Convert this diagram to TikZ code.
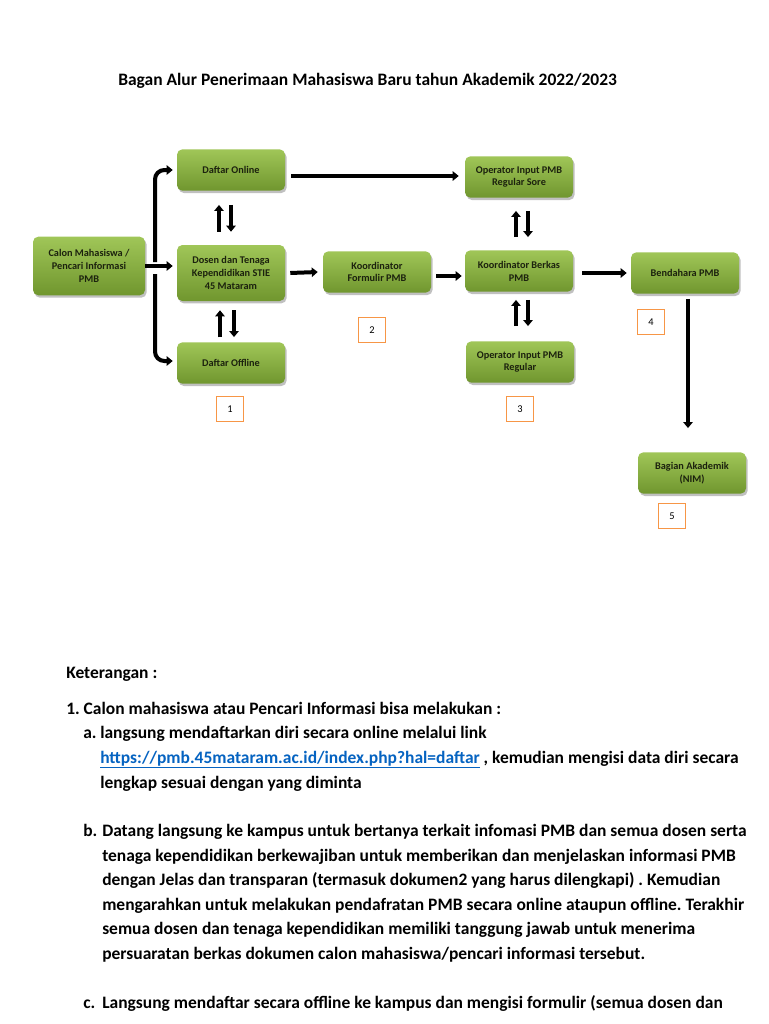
\documentclass[tikz,border=0pt]{standalone}
\usepackage{fontspec}
\setmainfont{Carlito}
\usetikzlibrary{arrows.meta,shadows,calc}
\definecolor{gtop}{RGB}{160,198,88}
\definecolor{gbot}{RGB}{112,150,46}
\definecolor{boxtext}{RGB}{28,34,14}
\definecolor{numorange}{RGB}{247,150,70}
\definecolor{linkblue}{RGB}{5,99,193}
\begin{document}
\frenchspacing
\begin{tikzpicture}[x=0.75pt,y=-0.75pt,
  box/.style={rectangle, rounded corners=4pt, top color=gtop, bottom color=gbot, draw=none,
    minimum width=81pt, minimum height=31pt, align=center, inner sep=2pt,
    font=\bfseries\fontsize{7.7}{9.6}\selectfont, text=boxtext,
    drop shadow={shadow xshift=1.2pt, shadow yshift=-1.8pt, opacity=0.35, fill=black!70}},
  num/.style={draw=numorange, line width=1.1pt, fill=white, minimum width=20pt, minimum height=18.5pt,
    inner sep=0pt, font=\fontsize{7.8}{9}\selectfont},
  arr/.style={line width=3pt, -{Triangle[length=4.5pt,width=7pt]}},
  bodyline/.style={anchor=base west, inner sep=0pt, font=\bfseries\fontsize{13.1}{15}\selectfont},
  titletext/.style={anchor=base west, inner sep=0pt, font=\bfseries\fontsize{13.1}{15}\selectfont}
]
\useasboundingbox (0,0) rectangle (768,1024);
\fill[white] (0,0) rectangle (768,1024);

\node[titletext] (title) at (118,85) {Bagan Alur Penerimaan Mahasiswa Baru tahun Akademik 2022/2023};

% boxes
\node[box, minimum width=84pt, minimum height=44pt] (calon) at (89,266) {Calon Mahasiswa /\\Pencari Informasi\\PMB};
\node[box] (online) at (231,170) {Daftar Online};
\node[box, minimum height=42pt] (dosen) at (231,273) {Dosen dan Tenaga\\Kependidikan STIE\\45 Mataram};
\node[box] (offline) at (231,363) {Daftar Offline};
\node[box] (formulir) at (377,272) {Koordinator\\Formulir PMB};
\node[box] (berkas) at (519,271) {Koordinator Berkas\\PMB};
\node[box] (opsore) at (519,177) {Operator Input PMB\\Regular Sore};
\node[box] (opreg) at (520,362) {Operator Input PMB\\Regular};
\node[box] (bendahara) at (685,273) {Bendahara PMB};
\node[box] (akademik) at (692,473) {Bagian Akademik\\(NIM)};

% number boxes
\node[num] (n1) at (230,409) {1};
\node[num] (n2) at (372,330) {2};
\node[num] (n3) at (520,409) {3};
\node[num] (n4) at (651,322) {4};
\node[num] (n5) at (672,516) {5};

% connectors
\coordinate (split) at (155,266);
\draw[arr, rounded corners=7pt, shorten >=3pt] ($(split)+(0,-4)$) |- (online.west);
\draw[arr, rounded corners=7pt, shorten >=3pt] ($(split)+(0,8)$) |- ($(offline.west)+(0,-2)$);
\draw[arr, shorten >=3pt] (calon.east) -- (dosen.west |- calon.east);

\draw[arr] ($(online.east)+(6,6)$) -- ($(opsore.west)+(-6,-1)$);

\draw[arr] ($(dosen.north)+(-12,-13)$) -- ($(online.south)+(-12,14)$);
\draw[arr] ($(online.south)+(0,14)$) -- ($(dosen.north)+(0,-13)$);
\draw[arr] ($(dosen.south)+(-11,36)$) -- ($(dosen.south)+(-11,9)$);
\draw[arr] ($(dosen.south)+(3,9)$) -- ($(offline.north)+(3,-5)$);

\draw[arr] ($(dosen.east)+(5,0)$) -- ($(formulir.west)+(-5,0)$);
\draw[arr] ($(formulir.east)+(5,4)$) -- ($(berkas.west)+(-3,5)$);

\draw[arr] ($(berkas.north)+(-3,-13)$) -- ($(opsore.south)+(-3,13)$);
\draw[arr] ($(opsore.south)+(9,13)$) -- ($(berkas.north)+(9,-13)$);
\draw[arr] ($(opreg.north)+(-4,-15)$) -- ($(berkas.south)+(-3,8)$);
\draw[arr] ($(berkas.south)+(9,8)$) -- ($(opreg.north)+(8,-15)$);

\draw[arr] ($(berkas.east)+(9,2)$) -- ($(bendahara.west)+(-4,0)$);
\draw[arr] ($(bendahara.south)+(3,5)$) -- ($(akademik.north)+(-4,-24)$);

% text
\node[bodyline] (k0) at (66,678) {Keterangan :};
\node[bodyline] (k1) at (66,714) {1. Calon mahasiswa atau Pencari Informasi bisa melakukan :};
\node[bodyline] (ka) at (83,738) {a.};
\node[bodyline] (ka1) at (100,738) {langsung mendaftarkan diri secara online melalui link};
\node[bodyline] (ka2) at (100,763) {\textcolor{linkblue}{\underline{https://pmb.45mataram.ac.id/index.php?hal=daftar}} , kemudian mengisi data diri secara};
\node[bodyline] (ka3) at (100,788) {lengkap sesuai dengan yang diminta};
\node[bodyline] (kb) at (83,836) {b.};
\node[bodyline] (kb1) at (102,836) {Datang langsung ke kampus untuk bertanya terkait infomasi PMB dan semua dosen serta};
\node[bodyline] (kb2) at (102,861) {tenaga kependidikan berkewajiban untuk memberikan dan menjelaskan informasi PMB};
\node[bodyline] (kb3) at (102,885) {dengan Jelas dan transparan (termasuk dokumen2 yang harus dilengkapi) . Kemudian};
\node[bodyline] (kb4) at (102,910) {mengarahkan untuk melakukan pendafratan PMB secara online ataupun offline. Terakhir};
\node[bodyline] (kb5) at (102,934) {semua dosen dan tenaga kependidikan memiliki tanggung jawab untuk menerima};
\node[bodyline] (kb6) at (102,959) {persuaratan berkas dokumen calon mahasiswa/pencari informasi tersebut.};
\node[bodyline] (kc) at (83,1008) {c.};
\node[bodyline] (kc1) at (102,1008) {Langsung mendaftar secara offline ke kampus dan mengisi formulir (semua dosen dan};
\end{tikzpicture}
\end{document}
